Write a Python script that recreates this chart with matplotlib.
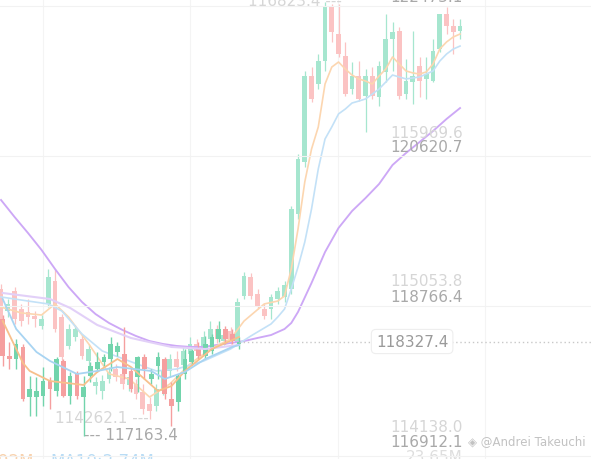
import matplotlib
matplotlib.use("Agg")
import matplotlib.pyplot as plt

# faint layer (older frame), price scale A
a_open = [115060, 114925, 115048, 114937, 114919, 114894, 114833, 114968, 115109, 114888,
          114710, 114765, 114753, 114617, 114464, 114433, 114507, 114568, 114538, 114470,
          114476, 114427, 114353, 114341, 114433, 114556, 114630, 114593, 114661, 114722,
          114691, 114753, 114814, 114740, 114802, 114734, 115017, 115134, 115029, 114937,
          114937, 114999, 115011, 115060, 115521, 115841, 116369, 116320, 116461, 116799,
          116627, 116492, 116289, 116369, 116246, 116369, 116240, 116394, 116597, 116646,
          116258, 116332, 116431, 116351, 116338, 116535, 116750, 116676, 116646]
a_high = [115091, 114999, 115072, 114968, 114999, 114925, 114900, 115183, 115183, 114906,
          114845, 114839, 114777, 114722, 114519, 114531, 114581, 114599, 114568, 114556,
          114507, 114476, 114396, 114476, 114593, 114661, 114679, 114710, 114765, 114753,
          114802, 114863, 114839, 114814, 114826, 115005, 115164, 115158, 115060, 114968,
          115029, 115072, 115109, 115570, 115890, 116400, 116424, 116504, 116823.4, 116812,
          116812, 116578, 116455, 116461, 116412, 116424, 116461, 116750, 116701, 116670,
          116474, 116646, 116486, 116486, 116597, 116750, 116793, 116719, 116719]
a_low = [114833, 114888, 114845, 114833, 114845, 114826, 114814, 114949, 114796, 114617,
         114691, 114740, 114630, 114581, 114415, 114384, 114482, 114495, 114445, 114433,
         114384, 114292, 114262.1, 114310, 114409, 114519, 114556, 114568, 114630, 114654,
         114667, 114722, 114728, 114716, 114722, 114722, 114999, 114999, 114937, 114876,
         114876, 114968, 114980, 115029, 115490, 115810, 116209, 116289, 116400, 116578,
         116486, 116246, 116258, 116215, 116025, 116228, 116185, 116332, 116400, 116228,
         116228, 116197, 116240, 116228, 116332, 116517, 116627, 116504, 116597]
a_close = [114863, 114968, 114876, 114863, 114888, 114876, 114876, 115134, 114814, 114642,
           114814, 114814, 114648, 114691, 114488, 114495, 114550, 114519, 114476, 114519,
           114415, 114322, 114310, 114445, 114556, 114630, 114581, 114679, 114722, 114679,
           114765, 114814, 114753, 114777, 114753, 114980, 115140, 115017, 114956, 114894,
           115011, 115048, 115085, 115552, 115859, 116369, 116228, 116461, 116799, 116640,
           116504, 116258, 116369, 116228, 116369, 116246, 116431, 116597, 116640, 116246,
           116338, 116369, 116338, 116381, 116523, 116750, 116676, 116640, 116676]

# moving averages of the faint layer: (candle index, price)
a_ma5_idx = [0, 3, 6, 8, 10, 13, 16, 19, 22, 25, 28, 31, 34, 36, 39, 41, 42, 43, 44, 45, 46,
             47, 48, 49, 50, 51, 52, 53, 54, 55, 56, 57, 58, 59, 60, 61, 62, 63, 64, 65, 66, 67, 68]
a_ma5 = [114949, 114913, 114900, 114968, 114888, 114722, 114538, 114507, 114396, 114476,
         114599, 114691, 114753, 114863, 114968, 114986, 115017, 115183, 115429, 115718,
         115920, 116056, 116320, 116424, 116455, 116412, 116375, 116351, 116338, 116320,
         116369, 116412, 116486, 116443, 116400, 116388, 116381, 116394, 116443, 116535,
         116578, 116609, 116627]
a_ma10_idx = [0, 4, 7, 9, 12, 15, 19, 23, 26, 30, 34, 37, 40, 41, 42, 43, 44, 45, 46, 47,
              48, 49, 50, 51, 52, 53, 54, 55, 56, 57, 58, 59, 60, 61, 62, 63, 64, 65, 66, 67, 68]
a_ma10 = [115011, 114986, 114968, 114925, 114783, 114679, 114617, 114556, 114568, 114617,
          114691, 114771, 114845, 114888, 114937, 115060, 115195, 115349, 115552, 115798,
          115982, 116056, 116136, 116166, 116203, 116215, 116228, 116258, 116289, 116332,
          116375, 116363, 116351, 116357, 116363, 116381, 116400, 116461, 116504, 116535, 116553]
a_ma30_idx = [0, 2, 4, 6, 8, 10, 12, 14, 16, 18, 20, 22, 24, 26, 28, 30, 32, 34, 36, 38,
              40, 42, 43, 44, 46, 48, 50, 52, 54, 56, 58, 60, 62, 64, 66, 68]
a_ma30 = [115607, 115503, 115404, 115300, 115183, 115072, 114980, 114906, 114851, 114808,
          114771, 114740, 114722, 114710, 114704, 114704, 114716, 114728, 114740, 114759,
          114777, 114814, 114851, 114919, 115097, 115287, 115435, 115539, 115619, 115705,
          115822, 115896, 115963, 116031, 116105, 116172]

# darker layer (newer frame), price scale B
b_open = [118606, 118148, 118111, 118260, 117641, 117641, 117654, 117839, 117716, 118087,
          117654, 117926, 117641, 117901, 117988, 118074, 118111, 118198, 118173, 117963,
          117889, 118136, 117864, 118025, 118111, 117617, 117580, 117926, 118074, 118235,
          118148, 118210, 118358, 118482, 118420, 118297]
b_high = [118655, 118321, 118358, 118297, 117901, 117889, 118012, 117889, 118136, 118111,
          117951, 117963, 117901, 118074, 118198, 118173, 118383, 118321, 118507, 118012,
          118148, 118173, 117988, 118198, 118136, 117827, 117926, 118235, 118235, 118321,
          118396, 118420, 118581, 118519, 118482, 118383]
b_low = [118025, 117988, 117988, 117592, 117407, 117407, 117530, 117493, 117654, 117641,
         117555, 117617, 117163.4, 117827, 117951, 118025, 117963, 118148, 117864, 117703,
         117703, 117864, 117802, 117864, 117617, 117283, 117468, 117864, 118037, 118111,
         118111, 118173, 118321, 118297, 118297, 118235]
b_close = [118148, 118111, 118297, 117617, 117740, 117716, 117839, 117740, 118111, 117654,
           117901, 117654, 117765, 118025, 118074, 118136, 118297, 118272, 117926, 117740,
           118136, 117988, 117926, 118136, 117679, 117530, 117901, 118111, 118210, 118148,
           118297, 118383, 118482, 118358, 118334, 118327.4]

b_ma5_idx = [0, 1, 3, 4, 7, 12, 14, 17, 19, 23, 25, 27, 31, 34, 35]
b_ma5 = [118581, 118408, 118062, 117963, 117839, 117790, 117951, 118111, 118012, 117716,
         117777, 117963, 118235, 118346, 118383]
b_ma10_idx = [0, 2, 5, 7, 11, 14, 17, 22, 24, 27, 30, 34, 35]
b_ma10 = [118853, 118482, 118198, 118087, 117926, 117963, 118012, 117963, 117864, 117951,
          118111, 118260, 118284]
b_ma30_idx = [0, 7, 10, 14, 19, 25, 30, 35]
b_ma30 = [118927, 118853, 118742, 118532, 118371, 118260, 118235, 118284]

a_labels = ["115969.6", "115053.8", "114138.0"]
b_labels = ["122473.1", "120620.7", "118766.4", "116912.1"]
a_max, a_min = 116823.4, 114262.1
b_min = 117163.4
last_price = 118327.4


def draw_candles(ax, xs, o, h, l, c, up, down, width, lw):
    for x, op, hi, lo, cl in zip(xs, o, h, l, c):
        col = up if cl >= op else down
        ax.vlines(x, lo, hi, color=col, lw=lw, zorder=2)
        bottom = min(op, cl)
        height = max(abs(cl - op), (ax.get_ylim()[1] - ax.get_ylim()[0]) * 0.004)
        ax.bar(x, height, bottom=bottom, width=width, color=col, lw=0, zorder=3)


fig = plt.figure(figsize=(5.91, 4.6), dpi=100)
ax = fig.add_axes([0, 0, 1, 1])
ax2 = ax.twinx()
for a in (ax, ax2):
    a.set_xlim(-0.15, 87.4)
    a.axis("off")
ax.set_ylim(114015.1, 116842.3)
ax2.set_ylim(116875.0, 122561.5)

# grid
for gy in [122473.1, 120620.7, 118766.4, 116912.1]:
    ax2.axhline(gy, color="#f2f2f2", lw=0.8, zorder=0)
for gx in [6.2, 28.0, 49.9, 71.7]:
    ax.axvline(gx, color="#f4f4f4", lw=0.8, zorder=0)

xa = list(range(len(a_open)))
draw_candles(ax, xa, a_open, a_high, a_low, a_close, "#a6e6cf", "#fbc3c3", 0.68, 0.9)
ax.plot(a_ma30_idx, a_ma30, color="#cda8f6", lw=1.35, zorder=4)
ax.plot(a_ma5_idx, a_ma5, color="#fcd6b0", lw=1.2, zorder=4)
ax.plot(a_ma10_idx, a_ma10, color="#c3e1f7", lw=1.2, zorder=4)

xb = [j + 0.25 for j in range(len(b_open))]
draw_candles(ax2, xb, b_open, b_high, b_low, b_close, "#72d4ac", "#f59f9f", 0.68, 1.0)
ax2.plot([j + 0.25 for j in b_ma30_idx], b_ma30, color="#e2d0f8", lw=1.5, zorder=4)
ax2.plot([j + 0.25 for j in b_ma5_idx], b_ma5, color="#f7c08c", lw=1.3, zorder=4)
ax2.plot([j + 0.25 for j in b_ma10_idx], b_ma10, color="#a8d4f2", lw=1.3, zorder=4)

# current price line and tag
ax2.hlines(last_price, xb[-1], 87.4, colors="#c8c8c8", linestyles=(0, (1, 2)), lw=1, zorder=5)
ax2.text(60.9, last_price, "118327.4", ha="center", va="center", fontsize=11, color="#9a9a9a",
         zorder=6, bbox=dict(boxstyle="round,pad=0.3", fc="white", ec="#eeeeee", lw=0.8))

# right axis labels
tr = ax.transAxes
for lab, yp in zip(a_labels, [133, 282, 428]):
    ax.text(463 / 591, 1 - yp / 460, lab, transform=tr, ha="right", va="center",
            fontsize=11, color="#d6d6d6", zorder=6)
for lab, yp in zip(b_labels, [-2, 147, 297, 443]):
    ax.text(463 / 591, 1 - yp / 460, lab, transform=tr, ha="right", va="center",
            fontsize=11, color="#a9a9a9", zorder=6)
ax.text(463 / 591, 1 - 458 / 460, "23.65M", transform=tr, ha="right", va="center",
        fontsize=11, color="#dedede", zorder=5)

# high / low markers
ax.text(248 / 591, 1 - 2 / 460, f"{a_max} ---", transform=tr, ha="left", va="center",
        fontsize=11, color="#d6d6d6", zorder=6)
ax.text(149 / 591, 1 - 419 / 460, f"{a_min} ---", transform=tr, ha="right", va="center",
        fontsize=11, color="#d6d6d6", zorder=6)
ax.text(84 / 591, 1 - 436 / 460, f"--- {b_min}", transform=tr, ha="left", va="center",
        fontsize=11, color="#a9a9a9", zorder=6)

# volume legend, cut off at the bottom
ax.text(-2 / 591, 1 - 462 / 460, "92M", transform=tr, ha="left", va="center",
        fontsize=12, color="#f8d2ae", zorder=6)
ax.text(50 / 591, 1 - 462 / 460, "MA10:2.74M", transform=tr, ha="left", va="center",
        fontsize=12, color="#b9dcf5", zorder=6)

# watermark
ax.text(586 / 591, 1 - 442 / 460, "◈ @Andrei Takeuchi", transform=tr, ha="right", va="center",
        fontsize=8.5, color="#c2c2c2", zorder=6)

fig.savefig("out.png", dpi=100)
